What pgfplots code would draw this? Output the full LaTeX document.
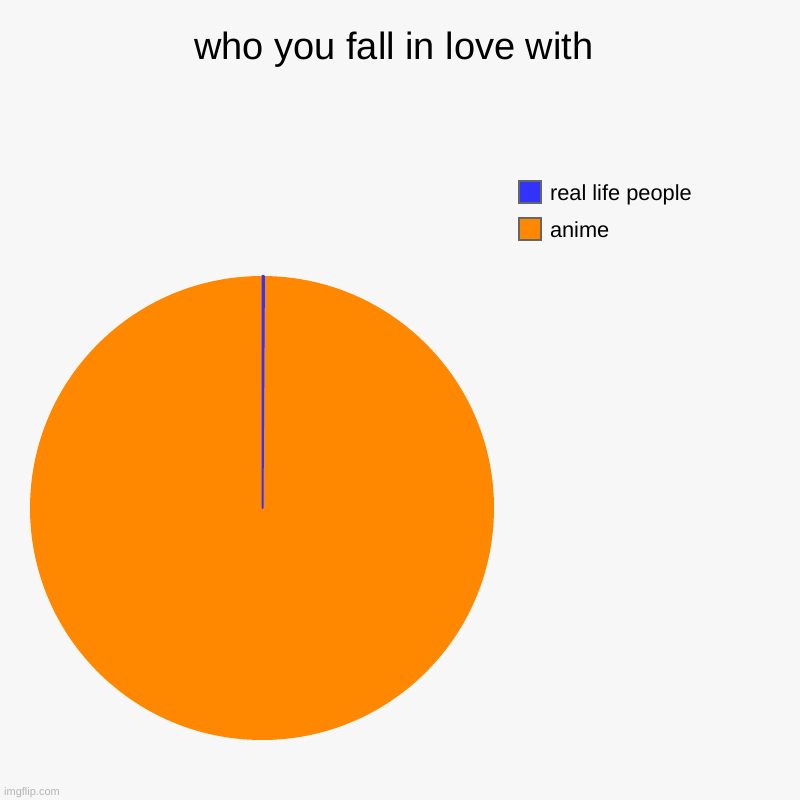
\documentclass[border=0pt]{standalone}
\usepackage{pgfplots}
\pgfplotsset{compat=1.18}
\usepackage{pgfplotstable}
\usepackage{fontspec}
\setmainfont{Liberation Sans}

\definecolor{bgcol}{HTML}{F7F7F7}
\definecolor{animeorange}{HTML}{FF8800}
\definecolor{reallifeblue}{HTML}{3333FF}
\definecolor{legendgray}{HTML}{666666}
\definecolor{markgray}{HTML}{B4B4B4}

% pie values (share of slices)
\pgfplotstableread{
label    value
reallife 0.1
anime    99.9
}\piedata

\pgfplotstablegetelem{0}{value}\of\piedata \let\valreal\pgfplotsretval
\pgfplotstablegetelem{1}{value}\of\piedata \let\valanime\pgfplotsretval
\pgfmathsetmacro\pietotal{\valreal+\valanime}
% slices run clockwise from 12 o'clock
\pgfmathsetmacro\angreal{90-(\valreal/\pietotal)*360}
\pgfmathsetmacro\anganime{\angreal-(\valanime/\pietotal)*360}

\begin{document}
\begin{tikzpicture}
  \begin{axis}[
      width=800pt, height=800pt,
      scale only axis,
      xmin=0, xmax=800, ymin=0, ymax=800,
      hide axis,
      clip=false,
      title={who you fall in love with},
      title style={at={(0.4925,0.925)}, anchor=base, yshift=-6pt,
        font=\fontsize{38}{44}\selectfont},
      legend style={at={(axis cs:518,620)}, anchor=north west,
        draw=none, fill=none, inner sep=0pt, outer sep=0pt,
        font=\fontsize{21.8}{25}\selectfont,
        nodes={inner sep=0pt, text depth=0pt},
        cells={anchor=base west},
        column sep=8pt, row sep=13pt},
      legend image code/.code={
        \draw[#1, draw=legendgray, line width=1.6pt]
          (0.8pt,-2.7pt) rectangle (23.2pt,19.7pt);},
    ]
    \fill[bgcol] (axis cs:0,0) rectangle (axis cs:800,800);

    \fill[animeorange] (axis cs:262,292) -- ++(\angreal:232pt)
      arc[start angle=\angreal, end angle=\anganime, radius=232pt] -- cycle;
    \filldraw[reallifeblue, line width=2pt, line join=round]
      (axis cs:262.5,292) -- ++(90:232pt)
      arc[start angle=90, end angle=\angreal, radius=232pt] -- cycle;

    \addlegendimage{fill=reallifeblue}
    \addlegendentry{real life people}
    \addlegendimage{fill=animeorange}
    \addlegendentry{anime}

    \node[anchor=base west, text=markgray, font=\fontsize{11}{13}\selectfont,
      inner sep=0pt] at (axis cs:4,5) {imgflip.com};
  \end{axis}
\end{tikzpicture}
\end{document}
